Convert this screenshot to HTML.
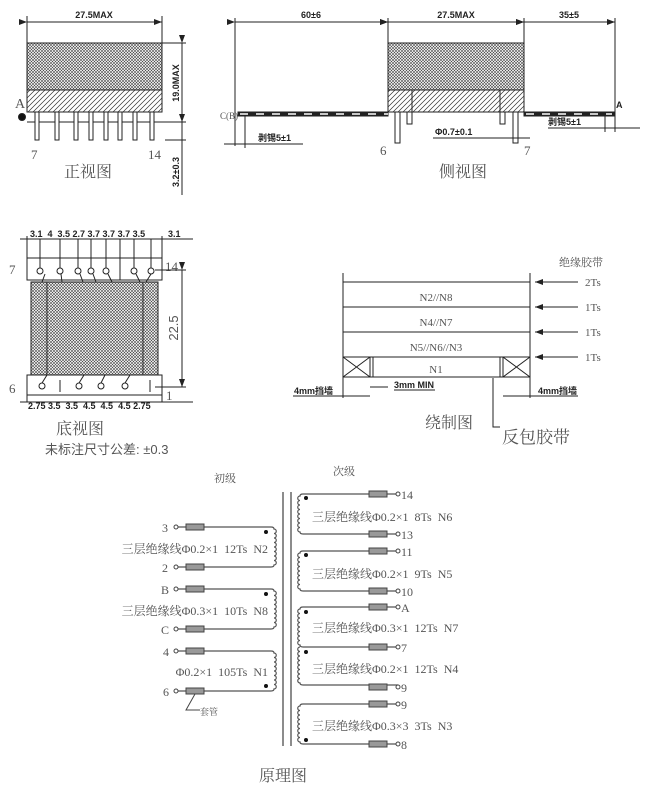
<!DOCTYPE html>
<html><head><meta charset="utf-8"><style>
body{margin:0;background:#fff}
svg{display:block}
text{font-family:"Liberation Serif","Noto Serif CJK SC",serif;fill:#555;stroke:none;white-space:pre}
.b{font-family:"Liberation Sans","Noto Sans CJK SC",sans-serif;font-weight:bold;fill:#222;font-size:9px}
</style></head><body>
<svg width="650" height="801" viewBox="0 0 650 801" xmlns="http://www.w3.org/2000/svg" stroke="#222" fill="none" xml:space="preserve">
<defs>
<pattern id="x" width="3" height="3" patternUnits="userSpaceOnUse"><rect width="3" height="3" fill="#fff" stroke="none"/><path d="M0 0L3 3M3 0L0 3" stroke="#444" stroke-width="0.6"/></pattern>
<pattern id="d" width="5" height="5" patternUnits="userSpaceOnUse"><rect width="5" height="5" fill="#fff" stroke="none"/><path d="M0 5L5 0M-1 1L1 -1M4 6L6 4" stroke="#333" stroke-width="0.7"/></pattern>
<marker id="ar" markerWidth="8" markerHeight="6" refX="8" refY="3" orient="auto"><path d="M0 0L8 3L0 6z" fill="#222" stroke="none"/></marker>
</defs>

<!-- FRONT VIEW -->
<line x1="27" y1="16" x2="27" y2="112"/><line x1="162" y1="16" x2="162" y2="43"/>
<line x1="27" y1="22" x2="162" y2="22" marker-start="url(#ar)" marker-end="url(#ar)"/>
<text class="b" x="94" y="18" text-anchor="middle">27.5MAX</text>
<rect x="27" y="43" width="135" height="47" fill="url(#x)"/>
<rect x="27" y="90" width="135" height="22" fill="url(#d)"/>
<line x1="162" y1="43" x2="186" y2="43"/><line x1="165" y1="122" x2="186" y2="122"/><line x1="165" y1="140" x2="186" y2="140"/>
<line x1="182" y1="43" x2="182" y2="122" marker-start="url(#ar)" marker-end="url(#ar)"/>
<line x1="182" y1="122" x2="182" y2="195"/>
<text class="b" transform="translate(179,83) rotate(-90)" text-anchor="middle">19.0MAX</text>
<text class="b" transform="translate(179,172) rotate(-90)" text-anchor="middle">3.2±0.3</text>
<line x1="27" y1="122" x2="165" y2="122"/>
<g fill="#fff">
<rect x="35" y="112" width="4" height="28"/><rect x="55" y="112" width="4" height="28"/><rect x="74" y="112" width="4" height="28"/><rect x="89" y="112" width="4" height="28"/><rect x="104" y="112" width="4" height="28"/><rect x="118" y="112" width="4" height="28"/><rect x="133" y="112" width="4" height="28"/><rect x="150" y="112" width="4" height="28"/>
</g>
<circle cx="22" cy="117" r="3.5" fill="#111"/>
<text x="15" y="108" font-size="14">A</text>
<text x="31" y="159" font-size="13">7</text><text x="148" y="159" font-size="13">14</text>
<text x="88" y="177" font-size="16" text-anchor="middle">正视图</text>

<!-- SIDE VIEW -->
<line x1="235" y1="18" x2="235" y2="146"/><line x1="388" y1="18" x2="388" y2="43"/><line x1="524" y1="18" x2="524" y2="43"/><line x1="615" y1="18" x2="615" y2="132"/>
<line x1="235" y1="22" x2="388" y2="22" marker-start="url(#ar)" marker-end="url(#ar)"/>
<line x1="388" y1="22" x2="524" y2="22" marker-start="url(#ar)" marker-end="url(#ar)"/>
<line x1="524" y1="22" x2="615" y2="22" marker-start="url(#ar)" marker-end="url(#ar)"/>
<text class="b" x="311" y="18" text-anchor="middle">60±6</text>
<text class="b" x="456" y="18" text-anchor="middle">27.5MAX</text>
<text class="b" x="569" y="18" text-anchor="middle">35±5</text>
<rect x="388" y="43" width="136" height="47" fill="url(#x)"/>
<rect x="388" y="90" width="136" height="22" fill="url(#d)"/>
<line x1="412" y1="90" x2="412" y2="112"/><line x1="500" y1="90" x2="500" y2="112"/>
<rect x="238" y="112" width="150" height="4" fill="#222"/><line x1="240" y1="114" x2="388" y2="114" stroke="#fff" stroke-dasharray="8 8" stroke-width="1.5"/>
<rect x="524" y="112" width="90" height="4" fill="#222"/><line x1="526" y1="114" x2="612" y2="114" stroke="#fff" stroke-dasharray="8 8" stroke-width="1.5"/>
<g fill="#fff"><rect x="395" y="112" width="5" height="31"/><rect x="407" y="112" width="5" height="12"/><rect x="500" y="112" width="5" height="12"/><rect x="513" y="112" width="5" height="31"/></g>
<text x="220" y="119" font-size="9">C(B)</text>
<text class="b" x="616" y="108" font-size="10">A</text>
<line x1="224" y1="144" x2="303" y2="144"/><line x1="245" y1="116" x2="245" y2="148"/>
<text class="b" x="258" y="141">剥锡5±1</text>
<line x1="433" y1="138" x2="530" y2="138"/>
<text class="b" x="435" y="135">Φ0.7±0.1</text>
<line x1="548" y1="128" x2="640" y2="128"/><line x1="605" y1="116" x2="605" y2="132"/>
<text class="b" x="548" y="125">剥锡5±1</text>
<text x="380" y="155" font-size="13">6</text><text x="524" y="155" font-size="13">7</text>
<text x="463" y="177" font-size="16" text-anchor="middle">侧视图</text>

<!-- BOTTOM VIEW -->
<line x1="20" y1="239" x2="193" y2="239"/>
<text class="b" x="30" y="237" font-size="6">3.1  4  3.5 2.7 3.7 3.7 3.7 3.5</text>
<text class="b" x="168" y="237" font-size="6">3.1</text>
<line x1="27" y1="236" x2="27" y2="258"/><line x1="162" y1="236" x2="162" y2="258"/>
<rect x="27" y="258" width="135" height="22" fill="#fff"/>
<rect x="31" y="282" width="127" height="95" fill="url(#x)"/>
<line x1="47" y1="282" x2="47" y2="377"/><line x1="143" y1="282" x2="143" y2="377"/>
<rect x="27" y="375" width="135" height="20" fill="#fff"/>
<line x1="27" y1="395" x2="27" y2="402"/><line x1="162" y1="395" x2="162" y2="402"/>
<line x1="20" y1="402" x2="193" y2="402"/>
<text class="b" x="28" y="409" font-size="6">2.75 3.5  3.5  4.5  4.5  4.5 2.75</text>
<g fill="#fff">
<circle cx="40" cy="271" r="3"/><circle cx="60" cy="271" r="3"/><circle cx="78" cy="271" r="3"/><circle cx="91" cy="271" r="3"/><circle cx="106" cy="271" r="3"/><circle cx="134" cy="271" r="3"/><circle cx="151" cy="271" r="3"/>
<circle cx="42" cy="386" r="3"/><circle cx="79" cy="386" r="3"/><circle cx="101" cy="386" r="3"/><circle cx="125" cy="386" r="3"/>
</g>
<g>
<path d="M40 239V268M60 239V268M78 239V268M91 239V268M106 239V268M120 239V280M134 239V268M151 239V268"/>
<path d="M42 282L45 274M62 282L61 274M83 282L80 274M96 282L93 274M112 282L108 274M140 282L136 274M146 282L151 274"/>
<path d="M42 383L47 375M79 383L84 375M101 383L105 375M125 383L130 375M60 380V392M150 380V392"/>
</g>
<text x="9" y="274" font-size="13">7</text><text x="165" y="271" font-size="13">14</text>
<text x="9" y="393" font-size="13">6</text><text x="166" y="400" font-size="13">1</text>
<line x1="155" y1="270" x2="186" y2="270"/><line x1="155" y1="387" x2="186" y2="387"/>
<line x1="182" y1="270" x2="182" y2="387" marker-start="url(#ar)" marker-end="url(#ar)"/>
<text transform="translate(178,328) rotate(-90)" font-size="13" text-anchor="middle" style="font-family:'Liberation Sans',sans-serif">22.5</text>
<text x="80" y="434" font-size="16" text-anchor="middle">底视图</text>
<text x="45" y="454" font-size="13" style="font-family:'Liberation Sans','Noto Sans CJK SC',sans-serif">未标注尺寸公差: ±0.3</text>

<!-- WINDING -->
<line x1="343" y1="273" x2="343" y2="398"/><line x1="530" y1="273" x2="530" y2="398"/>
<path d="M343 282H530M343 307H530M343 332H530M343 357H530M343 377H530"/>
<rect x="343" y="357" width="27" height="20"/><path d="M343 357L370 377M370 357L343 377"/>
<rect x="503" y="357" width="27" height="20"/><path d="M503 357L530 377M530 357L503 377"/>
<line x1="373" y1="357" x2="373" y2="377"/><line x1="500" y1="357" x2="500" y2="377"/>
<text x="436" y="301" font-size="11" text-anchor="middle">N2//N8</text>
<text x="436" y="326" font-size="11" text-anchor="middle">N4//N7</text>
<text x="436" y="351" font-size="11" text-anchor="middle">N5//N6//N3</text>
<text x="436" y="373" font-size="11" text-anchor="middle">N1</text>
<g marker-end="url(#ar)"><line x1="578" y1="282" x2="535" y2="282"/><line x1="578" y1="307" x2="535" y2="307"/><line x1="578" y1="332" x2="535" y2="332"/><line x1="578" y1="357" x2="535" y2="357"/></g>
<text x="585" y="286" font-size="11">2Ts</text><text x="585" y="311" font-size="11">1Ts</text><text x="585" y="336" font-size="11">1Ts</text><text x="585" y="361" font-size="11">1Ts</text>
<text x="559" y="266" font-size="11">绝缘胶带</text>
<line x1="293" y1="396" x2="343" y2="396"/><text class="b" x="294" y="394" font-size="7">4mm挡墙</text>
<line x1="343" y1="396" x2="370" y2="396"/>
<line x1="370" y1="387" x2="388" y2="387"/><text class="b" x="394" y="388" font-size="7">3mm MIN</text><line x1="394" y1="390" x2="435" y2="390"/>
<line x1="503" y1="396" x2="530" y2="396"/><line x1="530" y1="396" x2="578" y2="396"/><text class="b" x="538" y="394" font-size="7">4mm挡墙</text>
<text x="449" y="428" font-size="16" text-anchor="middle">绕制图</text>
<path d="M493 378V427H500"/>
<text x="502" y="443" font-size="17" fill="#333">反包胶带</text>

<!-- SCHEMATIC -->
<text x="214" y="482" font-size="11">初级</text><text x="333" y="475" font-size="11">次级</text>
<line x1="283" y1="492" x2="283" y2="746" stroke="#666" stroke-width="1.5"/><line x1="291" y1="492" x2="291" y2="746" stroke="#666" stroke-width="1.5"/>
<g stroke="#555" stroke-width="1.2">
<path d="M176 527H271q3 0 3 2a2.2 2.2 0 0 1 0 4.5a2.2 2.2 0 0 1 0 4.5a2.2 2.2 0 0 1 0 4.5a2.2 2.2 0 0 1 0 4.5a2.2 2.2 0 0 1 0 4.5a2.2 2.2 0 0 1 0 4.5a2.2 2.2 0 0 1 0 4.5a2.2 2.2 0 0 1 0 4.5q0 2-3 2H176"/>
<path d="M176 589H271q3 0 3 2a2.2 2.2 0 0 1 0 4.5a2.2 2.2 0 0 1 0 4.5a2.2 2.2 0 0 1 0 4.5a2.2 2.2 0 0 1 0 4.5a2.2 2.2 0 0 1 0 4.5a2.2 2.2 0 0 1 0 4.5a2.2 2.2 0 0 1 0 4.5a2.2 2.2 0 0 1 0 4.5q0 2-3 2H176"/>
<path d="M176 651H271q3 0 3 2a2.2 2.2 0 0 1 0 4.5a2.2 2.2 0 0 1 0 4.5a2.2 2.2 0 0 1 0 4.5a2.2 2.2 0 0 1 0 4.5a2.2 2.2 0 0 1 0 4.5a2.2 2.2 0 0 1 0 4.5a2.2 2.2 0 0 1 0 4.5a2.2 2.2 0 0 1 0 4.5q0 2-3 2H176"/>
<path d="M398 494H303q-3 0-3 2a2.2 2.2 0 0 0 0 4.5a2.2 2.2 0 0 0 0 4.5a2.2 2.2 0 0 0 0 4.5a2.2 2.2 0 0 0 0 4.5a2.2 2.2 0 0 0 0 4.5a2.2 2.2 0 0 0 0 4.5a2.2 2.2 0 0 0 0 4.5a2.2 2.2 0 0 0 0 4.5q0 2 3 2H398"/>
<path d="M398 551H303q-3 0-3 2a2.2 2.2 0 0 0 0 4.5a2.2 2.2 0 0 0 0 4.5a2.2 2.2 0 0 0 0 4.5a2.2 2.2 0 0 0 0 4.5a2.2 2.2 0 0 0 0 4.5a2.2 2.2 0 0 0 0 4.5a2.2 2.2 0 0 0 0 4.5a2.2 2.2 0 0 0 0 4.5q0 2 3 2H398"/>
<path d="M398 607H303q-3 0-3 2a2.2 2.2 0 0 0 0 4.5a2.2 2.2 0 0 0 0 4.5a2.2 2.2 0 0 0 0 4.5a2.2 2.2 0 0 0 0 4.5a2.2 2.2 0 0 0 0 4.5a2.2 2.2 0 0 0 0 4.5a2.2 2.2 0 0 0 0 4.5a2.2 2.2 0 0 0 0 4.5q0 2 3 2H398"/>
<path d="M300 647a2.2 2.2 0 0 0 0 4.5a2.2 2.2 0 0 0 0 4.5a2.2 2.2 0 0 0 0 4.5a2.2 2.2 0 0 0 0 4.5a2.2 2.2 0 0 0 0 4.5a2.2 2.2 0 0 0 0 4.5a2.2 2.2 0 0 0 0 4.5a2.2 2.2 0 0 0 0 4.5q0 2 3 2H398"/>
<path d="M398 704H303q-3 0-3 2a2.2 2.2 0 0 0 0 4.5a2.2 2.2 0 0 0 0 4.5a2.2 2.2 0 0 0 0 4.5a2.2 2.2 0 0 0 0 4.5a2.2 2.2 0 0 0 0 4.5a2.2 2.2 0 0 0 0 4.5a2.2 2.2 0 0 0 0 4.5a2.2 2.2 0 0 0 0 4.5q0 2 3 2H398"/>
</g>
<g fill="#fff" stroke="#444">
<circle cx="176" cy="527" r="2"/><circle cx="176" cy="567" r="2"/><circle cx="176" cy="589" r="2"/><circle cx="176" cy="629" r="2"/><circle cx="176" cy="651" r="2"/><circle cx="176" cy="691" r="2"/>
<circle cx="398" cy="494" r="2"/><circle cx="398" cy="534" r="2"/><circle cx="398" cy="551" r="2"/><circle cx="398" cy="591" r="2"/><circle cx="398" cy="607" r="2"/><circle cx="398" cy="647" r="2"/><circle cx="398" cy="687" r="2"/><circle cx="398" cy="704" r="2"/><circle cx="398" cy="744" r="2"/>
</g>
<g fill="#999" stroke="#444">
<rect x="186" y="524" width="18" height="6"/><rect x="186" y="564" width="18" height="6"/><rect x="186" y="586" width="18" height="6"/><rect x="186" y="626" width="18" height="6"/><rect x="186" y="648" width="18" height="6"/><rect x="186" y="688" width="18" height="6"/>
<rect x="369" y="491" width="18" height="6"/><rect x="369" y="531" width="18" height="6"/><rect x="369" y="548" width="18" height="6"/><rect x="369" y="588" width="18" height="6"/><rect x="369" y="604" width="18" height="6"/><rect x="369" y="644" width="18" height="6"/><rect x="369" y="684" width="18" height="6"/><rect x="369" y="701" width="18" height="6"/><rect x="369" y="741" width="18" height="6"/>
</g>
<g fill="#111" stroke="none">
<circle cx="266" cy="532" r="2"/><circle cx="266" cy="594" r="2"/><circle cx="266" cy="686" r="2"/>
<circle cx="306" cy="498" r="2"/><circle cx="306" cy="555" r="2"/><circle cx="306" cy="612" r="2"/><circle cx="306" cy="652" r="2"/><circle cx="306" cy="740" r="2"/>
</g>
<g font-size="12">
<text x="162" y="532">3</text><text x="162" y="572">2</text><text x="161" y="594">B</text><text x="161" y="634">C</text><text x="163" y="656">4</text><text x="163" y="696">6</text>
<text x="401" y="499">14</text><text x="401" y="539">13</text><text x="401" y="556">11</text><text x="401" y="596">10</text><text x="401" y="612">A</text><text x="401" y="652">7</text><text x="401" y="692">9</text><text x="401" y="709">9</text><text x="401" y="749">8</text>
<text x="268" y="553" text-anchor="end">三层绝缘线Φ0.2×1  12Ts  N2</text>
<text x="268" y="615" text-anchor="end">三层绝缘线Φ0.3×1  10Ts  N8</text>
<text x="268" y="676" text-anchor="end">Φ0.2×1  105Ts  N1</text>
<text x="312" y="521">三层绝缘线Φ0.2×1  8Ts  N6</text>
<text x="312" y="578">三层绝缘线Φ0.2×1  9Ts  N5</text>
<text x="312" y="632">三层绝缘线Φ0.3×1  12Ts  N7</text>
<text x="312" y="673">三层绝缘线Φ0.2×1  12Ts  N4</text>
<text x="312" y="730">三层绝缘线Φ0.3×3  3Ts  N3</text>
</g>
<path d="M195 694L186 710H200" stroke="#444"/>
<text x="200" y="715" font-size="9">套管</text>
<text x="283" y="781" font-size="16" text-anchor="middle">原理图</text>
</svg>
</body></html>
